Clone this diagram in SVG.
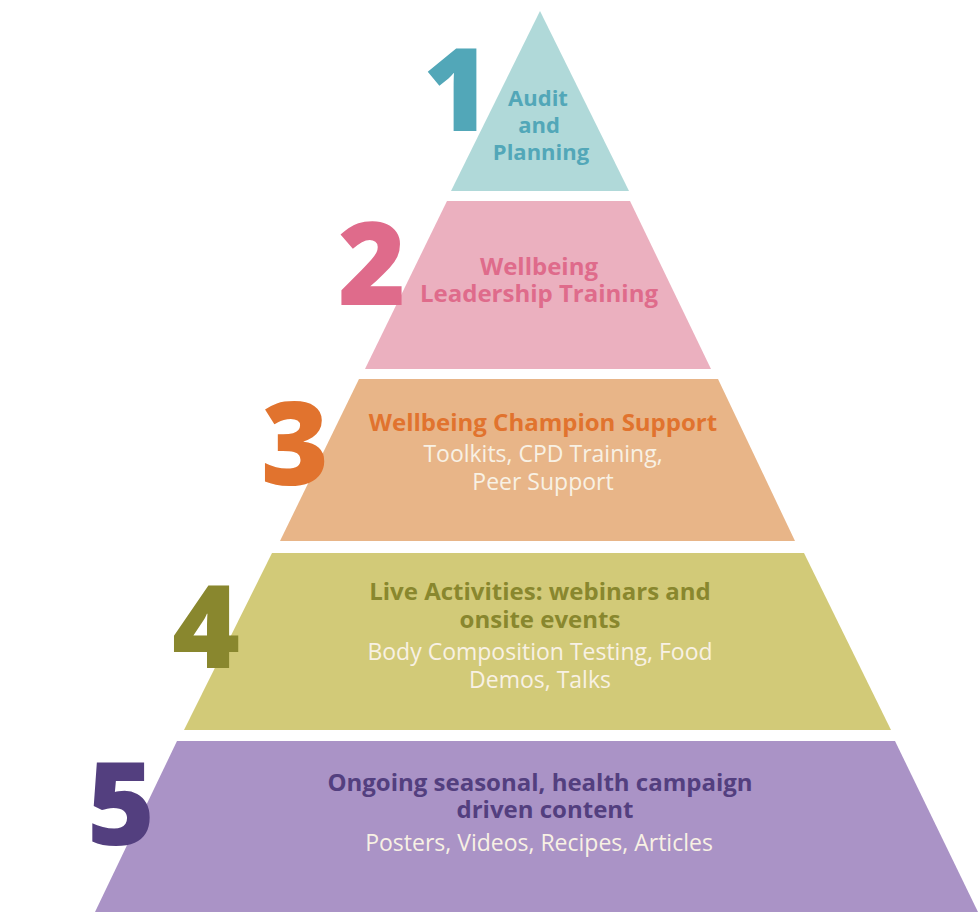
<svg xmlns="http://www.w3.org/2000/svg" width="980" height="912" viewBox="0 0 980 912">
<style>
.num{font-family:"Open Sans","DejaVu Sans",sans-serif;font-weight:800;font-size:116px;text-anchor:middle}
.t{font-family:"Open Sans","DejaVu Sans",sans-serif;font-weight:700;font-size:24px;text-anchor:middle}
.t1{font-family:"Open Sans","DejaVu Sans",sans-serif;font-weight:700;font-size:22px;text-anchor:middle}
.b{font-family:"Open Sans","DejaVu Sans",sans-serif;font-weight:400;font-size:23px;text-anchor:middle;fill:#f8f1e4}
</style>
<rect width="980" height="912" fill="#ffffff"/>
<g id="tier1">
<polygon points="540,11 629,191 451,191" fill="#b0d9d9"/>
<text class="num" x="457" y="131" fill="#52a7b8">1</text>
<text class="t1" x="538" y="106" fill="#52a7b8">Audit</text>
<text class="t1" x="539" y="133" fill="#52a7b8">and</text>
<text class="t1" x="541" y="160" fill="#52a7b8">Planning</text>
</g>
<g id="tier2">
<polygon points="447,201 630,201 711,369 365,369" fill="#ebb0bf"/>
<text class="num" x="372" y="305" fill="#df6b8b">2</text>
<text class="t" x="539" y="275" fill="#df6b8b">Wellbeing</text>
<text class="t" x="539" y="302" fill="#df6b8b">Leadership Training</text>
</g>
<g id="tier3">
<polygon points="359,379 718,379 795,541 280,541" fill="#e8b588"/>
<text class="num" x="295" y="485" fill="#e1732e">3</text>
<text class="t" x="543" y="431" fill="#e1732e">Wellbeing Champion Support</text>
<text class="b" x="543" y="462">Toolkits, CPD Training,</text>
<text class="b" x="543" y="490">Peer Support</text>
</g>
<g id="tier4">
<polygon points="272,553 804,553 891,730 184,730" fill="#d2ca78"/>
<text class="num" x="206" y="668" fill="#89872e">4</text>
<text class="t" x="540" y="600" fill="#89872e">Live Activities: webinars and</text>
<text class="t" x="540" y="628" fill="#89872e">onsite events</text>
<text class="b" x="540" y="660">Body Composition Testing, Food</text>
<text class="b" x="540" y="688">Demos, Talks</text>
</g>
<g id="tier5">
<polygon points="177,741 895,741 978,912 95,912" fill="#aa93c6"/>
<text class="num" x="121" y="845" fill="#533f7f">5</text>
<text class="t" x="540" y="791" fill="#533f7f">Ongoing seasonal, health campaign</text>
<text class="t" x="545" y="818" fill="#533f7f">driven content</text>
<text class="b" x="539" y="851">Posters, Videos, Recipes, Articles</text>
</g>
<g id="connectors"></g>
</svg>
